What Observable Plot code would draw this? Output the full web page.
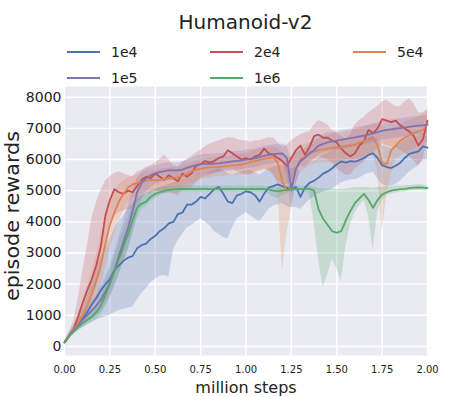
<!DOCTYPE html>
<html><head><meta charset="utf-8">
<script src="https://cdn.jsdelivr.net/npm/d3@7"></script>
<script src="https://cdn.jsdelivr.net/npm/@observablehq/plot@0.6"></script>
<style>
body{margin:0;background:#fff;font-family:"DejaVu Sans",sans-serif;}
#wrap{position:relative;width:474px;height:397px;overflow:hidden;background:#fff;}
#title{position:absolute;left:64px;width:363px;top:10px;text-align:center;font-size:20px;line-height:24px;color:#222;}
.item{position:absolute;height:20px;display:flex;align-items:center;font-size:14px;line-height:20px;color:#222;white-space:nowrap;}
.item .sw{display:inline-block;width:33px;height:2px;margin-right:11px;}
#chart{position:absolute;left:0;top:80px;}
</style></head>
<body><div id="wrap"><div id="title"></div><div id="legend"></div><div id="chart"></div></div>
<script>
const titleText = "Humanoid-v2";
const xLabel = "million steps";
const yLabel = "episode rewards";
const series = ["1e4", "2e4", "5e4", "1e5", "1e6"];
const colors = ["#4C72B0", "#C44E52", "#DD8452", "#8172B3", "#55A868"];
const xTicks = [0, 0.25, 0.5, 0.75, 1.0, 1.25, 1.5, 1.75, 2.0];
const yTicks = [0, 1000, 2000, 3000, 4000, 5000, 6000, 7000, 8000];
// sample grid: million steps, every 0.025
const steps = d3.range(81).map(i => i * 0.025);

const blueMean = [130,330,500,700,900,1100,1350,1550,1800,2000,
 2150,2450,2600,2750,2850,2900,3150,3250,3300,3450,
 3550,3700,3800,3950,4000,4250,4300,4550,4550,4650,
 4800,4750,4900,5050,5120,4900,4650,4600,4850,4900,
 4980,4950,4850,4650,4900,5100,5150,5200,5150,5100,
 5030,5120,4800,5100,5250,5320,5420,5550,5620,5720,
 5850,5940,5900,5950,5930,5980,6050,6150,6200,6050,
 5820,5760,5730,5800,5900,6050,6180,6220,6260,6420,
 6380];
const blueLo = [100,250,380,500,600,700,780,850,900,950,
 1000,1080,1150,1200,1230,1260,1480,1700,1850,2050,
 2150,2250,2280,2230,3080,3400,3600,3800,3880,4000,
 4100,4000,3880,3700,3600,3500,3460,3800,4100,4200,
 4300,4200,4100,4000,4200,4400,4500,4550,4600,4500,
 4450,4470,4400,4550,4700,4800,4900,4950,5000,5050,
 5150,5250,5300,5350,5350,5400,5500,5550,5600,5400,
 5200,5150,5150,5200,5300,5450,5600,5700,5800,5950,
 6000];
const blueHi = [160,420,650,950,1250,1600,2000,2400,2800,3150,
 3450,3750,4000,4200,4400,4550,4700,4800,4900,5000,
 5050,5100,5150,5200,5250,5300,5350,5400,5450,5500,
 5550,5550,5600,5650,5700,5650,5550,5500,5550,5600,
 5650,5650,5600,5500,5600,5700,5750,5800,5800,5750,
 5700,5750,5600,5750,5900,5950,6050,6150,6200,6300,
 6400,6450,6450,6500,6500,6550,6600,6700,6750,6650,
 6450,6400,6350,6400,6500,6600,6700,6750,6750,6850,
 6750];

const redMean = [130,330,550,950,1400,1800,2150,2600,3200,4200,
 4700,5050,4950,4900,5000,4950,5150,5350,5450,5400,
 5550,5450,5350,5500,5400,5300,5550,5450,5550,5800,
 5850,5950,5900,5950,6050,6100,6300,6200,6100,6000,
 6050,6000,6100,6150,6350,6200,6150,6050,5950,5800,
 6050,6300,6450,6150,6400,6750,6800,6700,6700,6600,
 6550,6350,6200,6100,6200,6450,6600,6950,6850,7000,
 7300,7250,7200,7250,7100,7000,6900,6750,6450,6650,
 7250];
const redLo = [100,250,420,650,900,1150,1450,1900,2400,3100,
 3800,4200,4300,4350,4400,4400,4600,4750,4900,4900,
 5000,4950,4900,4950,4900,4850,5000,5000,5100,5250,
 5400,5450,5500,5550,5600,5650,5700,5700,5600,5550,
 5500,5500,5600,5650,5700,5650,5500,5300,5200,5200,
 5300,5600,5800,5750,5900,6000,6100,6050,6000,5900,
 5700,5600,5500,5500,5700,5800,5900,6100,6200,6350,
 6500,6450,6400,6400,6300,6200,6100,5950,5800,6000,
 6600];
const redHi = [160,450,800,1500,2400,3200,4100,4600,5000,5300,
 5450,5550,5600,5550,5500,5450,5600,5650,5750,5800,
 5900,6000,6150,6000,5800,5750,5900,6000,6100,6200,
 6300,6400,6500,6550,6600,6650,6700,6700,6650,6600,
 6600,6550,6600,6600,6650,6700,6700,6550,6400,6450,
 6600,6700,6800,6850,6900,7100,7250,7200,7100,6950,
 6850,6750,6650,6800,7100,7250,7350,7500,7600,7700,
 7850,7900,7800,7700,7700,7850,7950,7800,7500,7500,
 7600];

const orangeMean = [130,330,520,750,1000,1300,1700,2100,2600,3300,
 3900,4300,4650,4900,5100,5200,5250,5300,5330,5350,
 5330,5350,5380,5400,5420,5430,5480,5550,5620,5680,
 5700,5730,5750,5750,5760,5780,5790,5810,5820,5840,
 5880,5920,5950,5990,6020,6050,6080,5900,5300,5000,
 5100,5700,6000,6100,6200,6250,6300,6330,6350,6380,
 6400,6380,6420,6450,6480,6550,6600,6650,6700,6450,
 5900,5850,6300,6450,6600,6700,6780,6850,6900,6950,
 7150];
const orangeLo = [100,280,420,580,750,950,1200,1500,1900,2500,
 3100,3600,4000,4350,4600,4750,4850,4900,4950,5000,
 5000,5000,5050,5050,5100,5100,5150,5200,5250,5300,
 5350,5400,5400,5450,5450,5450,5500,5500,5500,5500,
 5550,5550,5600,5600,5650,5650,5600,5200,2400,3600,
 4400,5200,5600,5700,5800,5850,5900,5900,5900,5900,
 5900,5950,6000,6000,6000,6050,6100,6150,6200,5600,
 3700,4800,5500,6000,6100,6200,6300,6350,6400,6450,
 6600];
const orangeHi = [160,400,650,950,1400,1900,2400,2900,3500,4100,
 4600,4900,5200,5300,5400,5450,5500,5550,5600,5620,
 5650,5680,5700,5720,5750,5770,5800,5850,5900,5950,
 6000,6020,6050,6050,6050,6080,6100,6120,6150,6180,
 6200,6250,6300,6320,6350,6380,6400,6350,6200,6000,
 6100,6300,6400,6480,6550,6600,6650,6700,6750,6800,
 6850,6850,6900,6920,6950,7000,7050,7100,7150,7100,
 7100,7000,7000,7050,7100,7200,7250,7300,7350,7450,
 7600];

const purpleMean = [130,330,500,680,850,1000,1150,1300,1500,1750,
 2050,2450,2900,3350,3800,4350,4950,5250,5400,5500,
 5560,5600,5630,5650,5650,5650,5680,5730,5780,5820,
 5850,5860,5860,5870,5880,5900,5920,5940,5960,5970,
 6000,6020,6040,6080,6120,6150,6170,6190,6200,6050,
 5050,5700,5950,6050,6200,6300,6450,6500,6550,6580,
 6610,6630,6660,6690,6710,6740,6770,6800,6840,6880,
 6920,6950,6970,6990,7010,7030,7050,7070,7090,7100,
 7110];
const purpleLo = [100,280,420,560,680,780,880,980,1100,1300,
 1550,1900,2300,2700,3100,3600,4200,4700,4950,5100,
 5200,5250,5300,5320,5330,5350,5380,5420,5470,5500,
 5530,5550,5560,5570,5580,5600,5620,5640,5660,5670,
 5700,5720,5740,5780,5820,5850,5870,5890,5900,5500,
 4500,5200,5600,5750,5900,6000,6150,6200,6250,6280,
 6310,6330,6360,6390,6410,6440,6470,6500,6540,6580,
 6620,6650,6670,6690,6710,6730,6750,6770,6790,6800,
 6810];
const purpleHi = [160,380,580,800,1020,1220,1420,1620,1900,2200,
 2550,3000,3500,4000,4500,5000,5400,5600,5700,5750,
 5800,5850,5880,5900,5900,5900,5930,5980,6030,6100,
 6150,6170,6170,6180,6190,6200,6220,6240,6260,6270,
 6300,6320,6340,6380,6420,6450,6470,6490,6500,6450,
 6000,6200,6300,6350,6500,6600,6750,6800,6850,6880,
 6910,6930,6960,6990,7010,7040,7070,7100,7140,7180,
 7220,7250,7270,7290,7310,7330,7350,7370,7390,7400,
 7410];

const greenMean = [130,330,480,620,750,850,950,1100,1300,1650,
 2000,2400,2800,3200,3600,4050,4450,4580,4650,4800,
 4900,4950,5000,5020,5040,5050,5060,5050,5060,5050,
 5060,5060,5050,5060,5060,5050,5060,5050,5060,5060,
 5050,5060,5050,5060,5050,5040,5000,4980,5000,5030,
 5050,5060,5050,5060,5060,5000,4400,4100,3900,3700,
 3650,3700,4050,4350,4600,4750,4900,4700,4450,4700,
 4880,4950,5000,5030,5050,5060,5080,5100,5110,5100,
 5080];
const greenLo = [100,280,400,500,600,680,760,860,1000,1300,
 1600,1950,2300,2700,3100,3600,4100,4400,4500,4650,
 4750,4850,4900,4920,4940,4950,4960,4950,4960,4950,
 4960,4960,4950,4960,4960,4950,4960,4950,4960,4960,
 4950,4960,4950,4960,4950,4900,4800,4750,4850,4900,
 4950,4960,4950,4960,4900,4000,2800,1900,2300,2800,
 2500,2100,3200,3900,4300,4500,4700,4200,3100,4300,
 4700,4850,4900,4930,4950,4960,4980,5000,5010,5000,
 4980];
const greenHi = [160,380,560,740,900,1020,1150,1350,1600,2000,
 2400,2850,3300,3700,4100,4500,4800,4850,4900,4950,
 5050,5080,5100,5120,5130,5140,5150,5140,5150,5140,
 5150,5150,5140,5150,5150,5140,5150,5140,5150,5150,
 5140,5150,5140,5150,5140,5130,5100,5090,5100,5120,
 5140,5150,5140,5150,5150,5100,5080,5060,5050,5050,
 5050,5050,5050,5080,5100,5100,5100,5100,5080,5100,
 5110,5120,5130,5140,5150,5160,5170,5180,5190,5180,
 5160];

const means = [blueMean, redMean, orangeMean, purpleMean, greenMean];
const los = [blueLo, redLo, orangeLo, purpleLo, greenLo];
const his = [blueHi, redHi, orangeHi, purpleHi, greenHi];

const data = [];
series.forEach((s, k) => steps.forEach((x, i) => {
  data.push({series: s, x, mean: means[k][i], lo: los[k][i], hi: his[k][i]});
}));

document.getElementById("title").textContent = titleText;

// legend (3 columns)
const legendCols = [67, 210, 353];
const legendRows = [42, 68];
const legend = document.getElementById("legend");
series.forEach((s, i) => {
  const it = document.createElement("div");
  it.className = "item";
  it.style.left = legendCols[i % 3] + "px";
  it.style.top = legendRows[Math.floor(i / 3)] + "px";
  const sw = document.createElement("span");
  sw.className = "sw";
  sw.style.background = colors[i];
  const tx = document.createElement("span");
  tx.textContent = s;
  it.appendChild(sw); it.appendChild(tx);
  legend.appendChild(it);
});

const mTop = 6, mLeft = 64, mBottom = 42, H = 317;
const chart = Plot.plot({
  width: 474, height: H,
  marginLeft: mLeft, marginRight: 47, marginTop: mTop, marginBottom: mBottom,
  style: {fontFamily: "DejaVu Sans", background: "transparent", color: "#222", overflow: "visible"},
  x: {domain: [0, 2]},
  y: {domain: [-290, 8345]},
  color: {domain: series, range: colors},
  marks: [
    Plot.frame({fill: "#eaeaf2", stroke: null}),
    Plot.gridX(xTicks, {stroke: "white", strokeOpacity: 1, strokeWidth: 1.4}),
    Plot.gridY(yTicks, {stroke: "white", strokeOpacity: 1, strokeWidth: 1.4}),
    Plot.areaY(data, {x: "x", y1: "lo", y2: "hi", z: "series", fill: "series", fillOpacity: 0.24}),
    Plot.line(data, {x: "x", y: "mean", z: "series", stroke: "series", strokeWidth: 1.8}),
    Plot.axisX(xTicks, {tickFormat: d3.format(".2f"), tickSize: 0, tickPadding: 10, fontSize: 10, label: null}),
    Plot.axisY(yTicks, {tickFormat: d3.format("d"), tickSize: 0, tickPadding: 3, fontSize: 14, label: null}),
    Plot.text([xLabel], {text: d => d, frameAnchor: "bottom", dy: 32, lineAnchor: "middle", fontSize: 16})
  ]
});
// y-axis title, rotated, centred on the frame's vertical middle
const cy = mTop + (H - mTop - mBottom) / 2 - 4.5;
d3.select(chart).append("text")
  .attr("transform", `translate(19,${cy}) rotate(-90)`)
  .attr("text-anchor", "middle")
  .attr("font-family", "DejaVu Sans")
  .attr("font-size", 20)
  .attr("fill", "#222")
  .attr("textLength", 170)
  .attr("lengthAdjust", "spacingAndGlyphs")
  .text(yLabel);
document.getElementById("chart").appendChild(chart);
</script>
</body></html>
